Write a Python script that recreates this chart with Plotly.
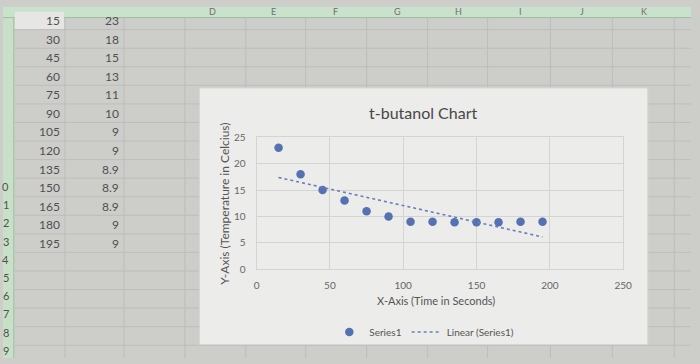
import numpy as np
import plotly.graph_objects as go

# ---- data ----
time_s = [15, 30, 45, 60, 75, 90, 105, 120, 135, 150, 165, 180, 195]
temp_c = [23, 18, 15, 13, 11, 10, 9, 9, 8.9, 8.9, 8.9, 9, 9]
temp_labels = ["23", "18", "15", "13", "11", "10", "9", "9", "8.9", "8.9", "8.9", "9", "9"]
x_ticks = [0, 50, 100, 150, 200, 250]
y_ticks = [0, 5, 10, 15, 20, 25]
col_letters = ["D", "E", "F", "G", "H", "I", "J", "K"]
row_numbers = ["0", "1", "2", "3", "4", "5", "6", "7", "8", "9"]

W, H = 700, 364
def px(x):
    return x / W
def py(y):
    return 1 - y / H

# linear trendline (least squares, like Excel)
slope, intercept = np.polyfit(time_s, temp_c, 1)
trend_x = [time_s[0], time_s[-1]]
trend_y = [slope * v + intercept for v in trend_x]

FONT = "Lato, 'Open Sans', sans-serif"
TXT = "#555555"
DOT = "#5571b2"

fig = go.Figure()
fig.add_trace(go.Scatter(
    x=time_s, y=temp_c, mode="markers", name="Series1",
    marker=dict(color=DOT, size=8.5),
))
fig.add_trace(go.Scatter(
    x=trend_x, y=trend_y, mode="lines", name="Linear (Series1)",
    line=dict(color="#6a7fb8", width=1.6, dash="dot"),
))

shapes = []
# spreadsheet header band and row header strip
shapes.append(dict(type="rect", xref="paper", yref="paper", x0=0, x1=1, y0=py(11), y1=1,
                   fillcolor="#c9e2cb", line=dict(width=0), layer="below"))
shapes.append(dict(type="rect", xref="paper", yref="paper", x0=0, x1=px(11), y0=0, y1=py(11),
                   fillcolor="#c8e0c8", line=dict(width=0), layer="below"))
shapes.append(dict(type="line", xref="paper", yref="paper", x0=0, x1=1, y0=py(11), y1=py(11),
                   line=dict(color="#9dbfa0", width=1), layer="below"))
shapes.append(dict(type="line", xref="paper", yref="paper", x0=px(11), x1=px(11), y0=0, y1=py(11),
                   line=dict(color="#9dbfa0", width=1), layer="below"))
# selected cell highlight
shapes.append(dict(type="rect", xref="paper", yref="paper", x0=px(12), x1=px(62), y0=py(23), y1=py(5),
                   fillcolor="#e6e6e4", line=dict(width=0), layer="below"))
# spreadsheet gridlines
for cx in [63, 123, 185, 247, 308, 370, 432, 493, 557, 620, 683]:
    shapes.append(dict(type="line", xref="paper", yref="paper", x0=px(cx), x1=px(cx), y0=0, y1=py(11),
                       line=dict(color="#bdbdba", width=1), layer="below"))
ry = 23.5
while ry < H:
    shapes.append(dict(type="line", xref="paper", yref="paper", x0=px(12), x1=1, y0=py(ry), y1=py(ry),
                       line=dict(color="#bdbdba", width=1), layer="below"))
    ry += 19.25
# chart area
shapes.append(dict(type="rect", xref="paper", yref="paper", x0=px(200), x1=px(656), y0=py(350), y1=py(84),
                   fillcolor="#ececea", line=dict(color="#d6d6d4", width=1), layer="below"))

annotations = []
# spreadsheet cell values
for i, (t, lab) in enumerate(zip(time_s, temp_labels)):
    yy = 14 + i * 19.25
    annotations.append(dict(x=px(60), y=py(yy), xref="paper", yref="paper", text=str(t), showarrow=False,
                            xanchor="right", yanchor="middle", font=dict(family=FONT, size=12, color="#505050")))
    annotations.append(dict(x=px(120), y=py(yy), xref="paper", yref="paper", text=lab, showarrow=False,
                            xanchor="right", yanchor="middle", font=dict(family=FONT, size=12, color="#505050")))
for i, r in enumerate(row_numbers):
    yy = 186 + i * 18.9
    annotations.append(dict(x=px(8), y=py(yy), xref="paper", yref="paper", text=r, showarrow=False,
                            xanchor="right", yanchor="middle", font=dict(family=FONT, size=11, color="#505050")))
for i, c in enumerate(col_letters):
    cx = 213 + i * 62.7
    annotations.append(dict(x=px(cx), y=py(5), xref="paper", yref="paper", text=c, showarrow=False,
                            xanchor="center", yanchor="middle", font=dict(family=FONT, size=9, color="#707070")))
# chart texts
annotations.append(dict(x=px(428), y=py(109), xref="paper", yref="paper", text="t-butanol Chart", showarrow=False,
                        xanchor="center", yanchor="middle", font=dict(family=FONT, size=16, color="#474747")))
annotations.append(dict(x=px(226), y=py(204), xref="paper", yref="paper", text="Y-Axis (Temperature in Celcius)",
                        showarrow=False, textangle=-90, xanchor="center", yanchor="middle",
                        font=dict(family=FONT, size=12, color=TXT)))
annotations.append(dict(x=px(441), y=py(304), xref="paper", yref="paper", text="X-Axis (Time in Seconds)",
                        showarrow=False, xanchor="center", yanchor="middle",
                        font=dict(family=FONT, size=11, color=TXT)))

fig.update_layout(
    width=W, height=H,
    margin=dict(l=0, r=0, t=0, b=0),
    paper_bgcolor="#cdcdca",
    plot_bgcolor="rgba(0,0,0,0)",
    font=dict(family=FONT, color=TXT),
    shapes=shapes,
    annotations=annotations,
    showlegend=True,
    legend=dict(orientation="h", x=px(332), y=py(337), xanchor="left", yanchor="middle",
                bgcolor="rgba(0,0,0,0)", font=dict(family=FONT, size=10, color=TXT),
                itemwidth=30, tracegroupgap=0),
    xaxis=dict(domain=[px(258), px(631)], range=[0, 250], tickvals=x_ticks,
               showgrid=True, gridcolor="#d4d4d2", gridwidth=1, zeroline=False,
               showline=True, linecolor="#d4d4d2", mirror=True,
               ticks="", ticklabelstandoff=7, tickfont=dict(family=FONT, size=10, color="#666666"),
               fixedrange=True),
    yaxis=dict(domain=[py(272), py(135)], range=[0, 25], tickvals=y_ticks,
               showgrid=True, gridcolor="#d4d4d2", gridwidth=1, zeroline=False,
               showline=True, linecolor="#d4d4d2", mirror=True,
               ticks="", ticklabelstandoff=8, tickfont=dict(family=FONT, size=10, color="#666666"),
               fixedrange=True),
)

fig.write_html("out.html", config={"displayModeBar": False},
               post_script="document.body.style.margin='0';document.body.style.overflow='hidden';")
